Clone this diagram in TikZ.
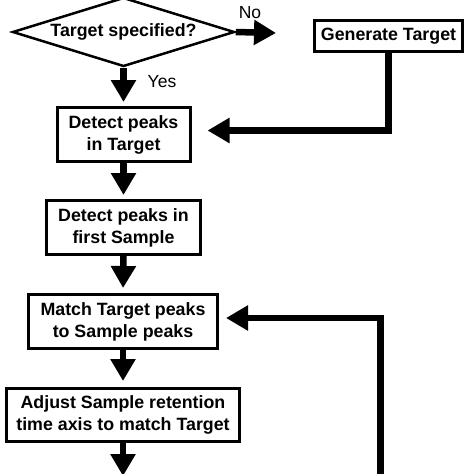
\documentclass[tikz,border=0pt]{standalone}
\usepackage{fontspec}
\setmainfont{Liberation Sans}
\usetikzlibrary{arrows.meta,shapes.geometric}
\tikzset{
	procbox/.style={draw, line width=3pt, align=center, inner sep=0pt, minimum height=54pt, font=\bfseries\fontsize{17.8}{22}\selectfont},
	flow/.style={line width=6.5pt, -{Triangle[length=22pt,width=24pt]}},
	flowlabel/.style={font=\fontsize{17.5}{22}\selectfont, inner sep=0pt}
}

\begin{document}
\begin{tikzpicture}[x=1pt, y=-1pt]
			%%%%% START %%%%%
			\useasboundingbox (0, 0) rectangle (474, 474);
			
			\node[draw, diamond, aspect=3.3, line width=2.5pt, inner sep=0pt, minimum width=222pt, minimum height=69pt, font=\bfseries\fontsize{17.8}{22}\selectfont] (spec) at (123.5, 32) {Target specified?};
			\node[procbox, minimum width=148pt, minimum height=31pt] (gen) at (388.5, 36) {Generate Target};
			
			\node[procbox, minimum width=133pt] (detT) at (123.5, 134.5) {Detect peaks\\in Target};
			\node[procbox, minimum width=154pt] (detS) at (123.5, 227.5) {Detect peaks in\\first Sample};
			\node[procbox, minimum width=189pt] (match) at (123, 321.5) {Match Target peaks\\to Sample peaks};
			\node[procbox, minimum width=233pt, minimum height=53pt] (adjust) at (123, 415) {Adjust Sample retention\\time axis to match Target};
			
			\coordinate (noEnd) at (276, 33);
			\coordinate (nextEnd) at (123, 476);
			\coordinate (loopStart) at (380.5, 480);
			
			\draw[flow] (spec.east) -- (noEnd);
			\node[flowlabel] (no) at (250, 13) {No};
			
			\draw[flow, shorten >=4pt] (spec.south) -- (detT.north);
			\node[flowlabel] (yes) at (162, 82) {Yes};
			
			\draw[flow, shorten >=16pt] (gen.south) |- ([yshift=4pt]detT.east);
			
			\draw[flow, shorten >=4pt] (detT.south) -- (detS.north);
			\draw[flow, shorten >=5pt] (detS.south) -- (match.north);
			\draw[flow, shorten >=6pt] (match.south) -- (adjust.north);
			\draw[flow] (adjust.south) -- (nextEnd);
			
			\draw[flow, shorten >=7pt] (loopStart) |- ([yshift=3.5pt]match.east);
			
			%%%%% END %%%%%
		\end{tikzpicture}
\end{document}
